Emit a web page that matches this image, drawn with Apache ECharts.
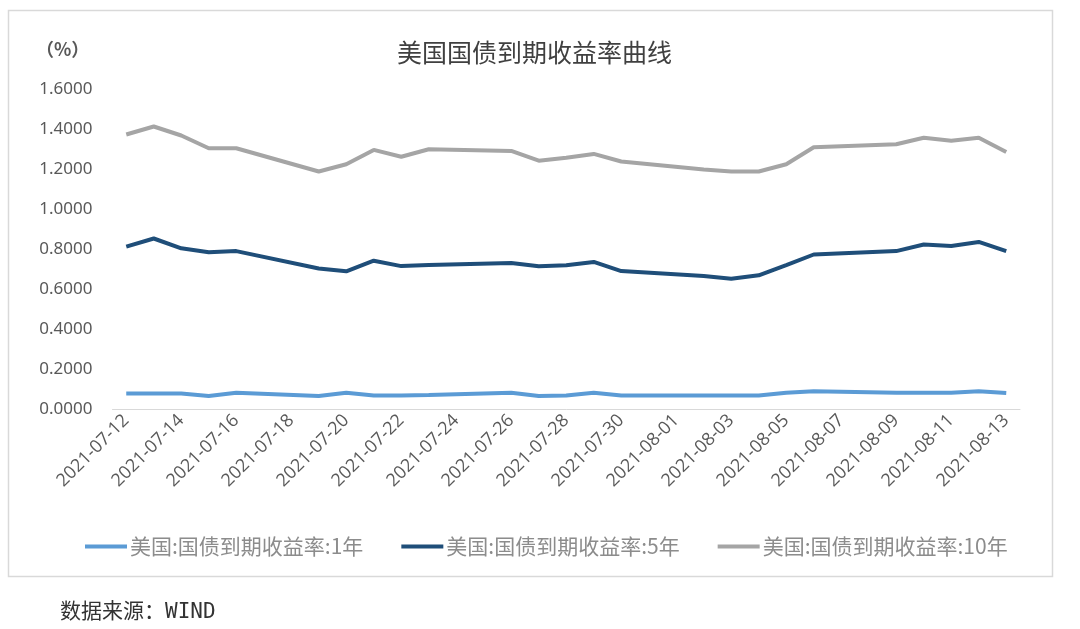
<!DOCTYPE html>
<html>
<head>
<meta charset="utf-8">
<script src="https://cdn.jsdelivr.net/npm/echarts@6/dist/echarts.min.js"></script>
<style>
html,body{margin:0;padding:0;background:#fff;}
#chart{width:1080px;height:629px;}
</style>
</head>
<body>
<div id="chart"></div>
<script>
var dates = ['2021-07-12','2021-07-13','2021-07-14','2021-07-15','2021-07-16','2021-07-17','2021-07-18',
  '2021-07-19','2021-07-20','2021-07-21','2021-07-22','2021-07-23','2021-07-24','2021-07-25',
  '2021-07-26','2021-07-27','2021-07-28','2021-07-29','2021-07-30','2021-07-31','2021-08-01',
  '2021-08-02','2021-08-03','2021-08-04','2021-08-05','2021-08-06','2021-08-07','2021-08-08',
  '2021-08-09','2021-08-10','2021-08-11','2021-08-12','2021-08-13'];
var y1 = [0.080,0.080,0.080,0.068,0.084,null,null,
  0.068,0.084,0.070,0.070,0.073,null,null,
  0.084,0.068,0.070,0.084,0.070,null,null,
  0.070,0.070,0.070,0.084,0.091,null,null,
  0.084,0.084,0.084,0.091,0.082];
var y5 = [0.814,0.855,0.806,0.786,0.792,null,null,
  0.705,0.691,0.744,0.717,0.722,null,null,
  0.733,0.716,0.721,0.738,0.692,null,null,
  0.668,0.654,0.671,0.722,0.775,null,null,
  0.792,0.825,0.818,0.838,0.792];
var y10 = [1.375,1.415,1.370,1.306,1.306,null,null,
  1.190,1.226,1.298,1.264,1.301,null,null,
  1.293,1.244,1.259,1.278,1.240,null,null,
  1.200,1.190,1.190,1.226,1.311,null,null,
  1.326,1.359,1.344,1.359,1.287];
var seriesNames = ['美国:国债到期收益率:1年','美国:国债到期收益率:5年','美国:国债到期收益率:10年'];
var colors = ['#5B9BD5','#1F4E79','#A5A5A5'];

var chart = echarts.init(document.getElementById('chart'), null, {renderer:'canvas'});
function mk(i, data){
  return {name: seriesNames[i], type:'line', data:data, connectNulls:true, symbol:'none',
    smooth:false, lineStyle:{width:4, color:colors[i]}, itemStyle:{color:colors[i]}};
}
chart.setOption({
  animation:false,
  backgroundColor:'#fff',
  title:{text:'美国国债到期收益率曲线', left:392, top:35,
    textStyle:{fontFamily:'"Noto Sans CJK SC"', fontSize:25, fontWeight:'normal', color:'#404040'}},
  grid:{left:112.5, right:60, top:89.5, bottom:219.5},
  legend:{left:80, top:531, itemGap:38, icon:'rect', itemWidth:42, itemHeight:4,
    textStyle:{fontFamily:'"Noto Sans CJK SC"', fontSize:21, color:'#8c8c8c', padding:[0,0,0,-2]},
    data:seriesNames},
  xAxis:{type:'category', data:dates, boundaryGap:true,
    axisLine:{lineStyle:{color:'#d9d9d9', width:1}},
    axisTick:{interval:1, length:5, lineStyle:{color:'#d9d9d9'}},
    axisLabel:{interval:1, rotate:45, margin:8, fontSize:18, color:'#595959', fontFamily:'"Open Sans"'}},
  yAxis:{type:'value', min:0, max:1.6, interval:0.2,
    axisLine:{show:false}, axisTick:{show:false}, splitLine:{show:false},
    axisLabel:{margin:20, fontSize:17, color:'#595959', fontFamily:'"Noto Sans"',
      formatter:function(v){return v.toFixed(4);}}},
  graphic:[
    {type:'rect', shape:{x:8.5, y:10.5, width:1044, height:566}, style:{fill:'none', stroke:'#d9d9d9', lineWidth:1.5}, z:-1},
    {type:'text', left:36, top:40, style:{text:'（%）', fontFamily:'"Noto Sans CJK SC"', fontSize:18, fontWeight:'bold', fill:'#595959'}},
    {type:'text', left:60, top:602, style:{text:'数据来源：WIND', fontFamily:'"DejaVu Sans Mono","Noto Sans CJK SC"', fontSize:21, fill:'#333'}}
  ],
  series:[mk(0,y1), mk(1,y5), mk(2,y10)]
});
</script>
</body>
</html>
